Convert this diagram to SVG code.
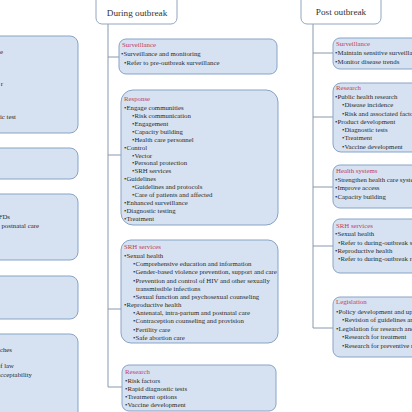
<svg xmlns="http://www.w3.org/2000/svg" width="412" height="412" viewBox="0 0 412 412">
<style>
.box{fill:#d6e2f1;stroke:#86a3c7;stroke-width:1}
.hdr{fill:#ffffff;stroke:#93a7bf;stroke-width:1}
.ln{fill:none;stroke:#8898ad;stroke-width:1}
text{font-family:"Liberation Serif","Times New Roman",serif;font-size:6.8px;fill:#2a2a2a}
.t{fill:#c23a5c}
.h{font-size:9.2px;fill:#333}
</style>
<rect width="412" height="412" fill="#ffffff"/>
<g id="connectors">
<path class="ln" d="M108,24 V387 H122 M108,57 H119 M108,155 H121 M108,309 H121"/>
<path class="ln" d="M313,24 V328 H333 M313,53 H333 M313,117 H333 M313,187 H333 M313,246 H333"/>
</g>
<g id="pre1"><rect class="box" x="-20" y="36" width="98" height="97" rx="8"/>
<text x="3" y="54" text-anchor="end">e</text><text x="3" y="86" text-anchor="end">r</text><text x="16" y="119" text-anchor="end">ic test</text></g>
<g id="pre2"><rect class="box" x="-20" y="148" width="98" height="31" rx="8"/></g>
<g id="pre3"><rect class="box" x="-20" y="194" width="98" height="66" rx="8"/>
<text x="10" y="219" text-anchor="end">FDs</text><text x="39" y="228" text-anchor="end">l postnatal care</text></g>
<g id="pre4"><rect class="box" x="-20" y="276" width="98" height="43" rx="8"/></g>
<g id="pre5"><rect class="box" x="-20" y="334" width="98" height="90" rx="8"/>
<text x="12" y="352" text-anchor="end">ches</text><text x="14" y="368" text-anchor="end">of law</text><text x="32" y="377" text-anchor="end">acceptability</text></g>

<g id="during-header"><rect class="hdr" x="96" y="-8" width="81" height="32" rx="6"/>
<text class="h" x="137" y="16" text-anchor="middle">During outbreak</text></g>

<g id="during-surveillance"><rect class="box" x="119" y="39" width="158" height="35" rx="7"/>
<text class="t" x="122" y="47">Surveillance</text>
<text x="121" y="56">•Surveillance and monitoring</text>
<text x="124" y="65">•Refer to pre-outbreak surveillance</text></g>

<g id="during-response"><rect class="box" x="121" y="90" width="157" height="135" rx="12"/>
<text class="t" x="124" y="101">Response</text>
<text x="124" y="110">•Engage communities</text>
<text x="132" y="118">•Risk communication</text>
<text x="132" y="125.9">•Engagement</text>
<text x="132" y="133.8">•Capacity building</text>
<text x="132" y="141.7">•Health care personnel</text>
<text x="124" y="149.6">•Control</text>
<text x="132" y="157.5">•Vector</text>
<text x="132" y="165.4">•Personal protection</text>
<text x="132" y="173.3">•SRH services</text>
<text x="124" y="181.2">•Guidelines</text>
<text x="132" y="189.1">•Guidelines and protocols</text>
<text x="132" y="197">•Care of patients and affected</text>
<text x="124" y="205">•Enhanced surveillance</text>
<text x="124" y="213">•Diagnostic testing</text>
<text x="124" y="220.8">•Treatment</text></g>

<g id="during-srh"><rect class="box" x="121" y="240" width="157" height="103" rx="10"/>
<text class="t" x="124" y="249">SRH services</text>
<text x="124" y="258">•Sexual health</text>
<text x="133" y="266.2">•Comprehensive education and information</text>
<text x="133" y="274.4">•Gender-based violence prevention, support and care</text>
<text x="133" y="282.5">•Prevention and control of HIV and other sexually</text>
<text x="136" y="290.6">transmissible infections</text>
<text x="133" y="298.8">•Sexual function and psychosexual counseling</text>
<text x="124" y="307">•Reproductive health</text>
<text x="133" y="315.2">•Antenatal, intra-partum and postnatal care</text>
<text x="133" y="323.4">•Contraception counseling and provision</text>
<text x="133" y="331.5">•Fertility care</text>
<text x="133" y="339.6">•Safe abortion care</text></g>

<g id="during-research"><rect class="box" x="122" y="365" width="154" height="46" rx="7"/>
<text class="t" x="125" y="374">Research</text>
<text x="125" y="383">•Risk factors</text>
<text x="125" y="391">•Rapid diagnostic tests</text>
<text x="125" y="399">•Treatment options</text>
<text x="125" y="407">•Vaccine development</text></g>

<g id="post-header"><rect class="hdr" x="301" y="-8" width="80" height="32" rx="6"/>
<text class="h" x="341" y="15" text-anchor="middle">Post outbreak</text></g>

<g id="post-surveillance"><rect class="box" x="333" y="38" width="100" height="31" rx="7"/>
<text class="t" x="336" y="46">Surveillance</text>
<text x="335" y="55">•Maintain sensitive surveillance</text>
<text x="335" y="64">•Monitor disease trends</text></g>

<g id="post-research"><rect class="box" x="333" y="83" width="100" height="69" rx="8"/>
<text class="t" x="336" y="90">Research</text>
<text x="335" y="99">•Public health research</text>
<text x="342" y="107.3">•Disease incidence</text>
<text x="342" y="115.5">•Risk and associated factors</text>
<text x="335" y="123.8">•Product development</text>
<text x="342" y="132">•Diagnostic tests</text>
<text x="342" y="140">•Treatment</text>
<text x="342" y="148.5">•Vaccine development</text></g>

<g id="post-health-systems"><rect class="box" x="333" y="165" width="100" height="43" rx="7"/>
<text class="t" x="336" y="173">Health systems</text>
<text x="335" y="181.5">•Strengthen health care system</text>
<text x="335" y="190">•Improve access</text>
<text x="335" y="198.5">•Capacity building</text></g>

<g id="post-srh"><rect class="box" x="333" y="219" width="100" height="54" rx="7"/>
<text class="t" x="336" y="228">SRH services</text>
<text x="335" y="236.3">•Sexual health</text>
<text x="338" y="244.6">•Refer to during-outbreak srh</text>
<text x="335" y="252.9">•Reproductive health</text>
<text x="338" y="261.2">•Refer to during-outbreak rh</text></g>

<g id="post-legislation"><rect class="box" x="333" y="297" width="100" height="60" rx="7"/>
<text class="t" x="336" y="304">Legislation</text>
<text x="336" y="313.5">•Policy development and up-grading</text>
<text x="342" y="322">•Revision of guidelines and</text>
<text x="336" y="330.5">•Legislation for research and development</text>
<text x="342" y="339">•Research for treatment</text>
<text x="342" y="347.5">•Research for preventive measures</text></g>
</svg>
